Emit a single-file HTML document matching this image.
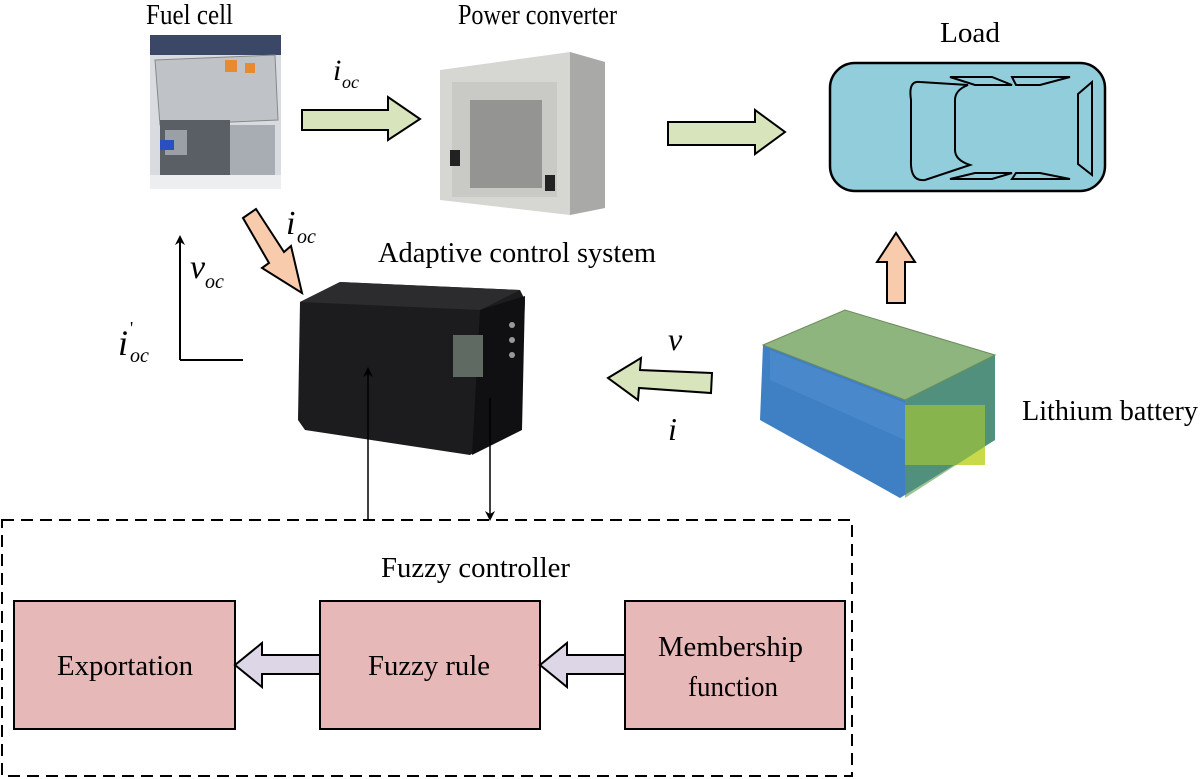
<!DOCTYPE html>
<html><head><meta charset="utf-8"><style>
html,body{margin:0;padding:0;background:#fff;}
svg{display:block;font-family:"Liberation Serif",serif;}
</style></head><body>
<svg width="1200" height="779" viewBox="0 0 1200 779" xmlns="http://www.w3.org/2000/svg">
<defs>
<marker id="ah" markerWidth="10" markerHeight="10" refX="5" refY="5" orient="auto" markerUnits="userSpaceOnUse">
<path d="M0,0 L10,5 L0,10 L3,5 z" fill="#000"/></marker>
</defs>
<!-- Titles -->
<text x="146" y="24" font-size="29" textLength="87" lengthAdjust="spacingAndGlyphs">Fuel cell</text>
<text x="458" y="24" font-size="29" textLength="159" lengthAdjust="spacingAndGlyphs">Power converter</text>
<text x="940" y="42" font-size="29" textLength="60" lengthAdjust="spacingAndGlyphs">Load</text>
<text x="378" y="262" font-size="29" textLength="278" lengthAdjust="spacingAndGlyphs">Adaptive control system</text>
<text x="1022" y="420" font-size="29" textLength="176" lengthAdjust="spacingAndGlyphs">Lithium battery</text>

<!-- Fuel cell photo -->
<rect x="150" y="35" width="131" height="154" fill="#d8dbe0"/>
<rect x="150" y="35" width="131" height="20" fill="#3b4766"/>
<path d="M155,60 L275,55 L278,120 L160,125 z" fill="#bfc3c8" stroke="#888"/>
<rect x="225" y="60" width="12" height="12" fill="#e88a30"/><rect x="245" y="63" width="10" height="10" fill="#e88a30"/>
<rect x="160" y="120" width="70" height="55" fill="#5a5f66"/>
<rect x="165" y="130" width="22" height="25" fill="#9aa0a6"/>
<rect x="160" y="140" width="14" height="10" fill="#2a4fbf"/>
<rect x="230" y="125" width="45" height="50" fill="#a8adb3"/>
<rect x="150" y="175" width="131" height="14" fill="#eceef0"/>

<!-- Power converter -->
<path d="M440,70 L570,52 L605,62 L605,208 L570,215 L440,200 z" fill="#d6d6d3"/>
<path d="M570,52 L605,62 L605,208 L570,215 z" fill="#a9aaa8"/>
<rect x="452" y="82" width="105" height="115" fill="#c9c9c6"/>
<rect x="470" y="100" width="72" height="88" fill="#7e7f7e" opacity="0.7"/>
<rect x="450" y="150" width="10" height="16" fill="#222"/><rect x="545" y="175" width="10" height="16" fill="#222"/>

<!-- green arrow 1 -->
<text x="333" y="80" font-size="30" font-style="italic">i</text><text x="342" y="88" font-size="18" font-style="italic">oc</text>
<path d="M302,110 L388,110 L388,97 L420,119 L388,140 L388,130 L302,130 z" fill="#d8e4bc" stroke="#000" stroke-width="2"/>
<!-- green arrow 2 -->
<path d="M668,122 L755,122 L755,110 L785,132 L755,154 L755,145 L668,145 z" fill="#d8e4bc" stroke="#000" stroke-width="2"/>

<!-- Car -->
<rect x="830" y="63" width="275" height="128" rx="25" fill="#92cddb" stroke="#000" stroke-width="2.5"/>
<path d="M920,82 Q908,80 911,100 L911,160 Q910,182 925,180 L970,165 Q955,160 955,150 L955,100 Q955,90 968,85 z" fill="none" stroke="#000" stroke-width="2"/>
<path d="M950,77 L992,77 L1012,85 L975,85 z M1012,77 L1070,77 L1040,85 L1016,85 z" fill="none" stroke="#000" stroke-width="2"/>
<path d="M950,179 L992,179 L1012,173 L975,173 z M1012,179 L1070,179 L1040,173 L1016,173 z" fill="none" stroke="#000" stroke-width="2"/>
<path d="M1078,94 L1092,82 L1092,175 L1078,164 z" fill="none" stroke="#000" stroke-width="2"/>

<!-- peach up arrow -->
<path d="M887,303 L887,262 L877,262 L896,233 L915,262 L905,262 L905,303 z" fill="#f8cbad" stroke="#000" stroke-width="2"/>

<!-- battery -->
<path d="M763,345 L845,310 L995,355 L995,440 L900,498 L760,420 z" fill="#3f7fc4"/>
<path d="M763,345 L845,310 L995,355 L905,400 z" fill="#8fb57e" stroke="#6e8b5e"/>
<path d="M770,350 L905,403 L905,440 L770,380 z" fill="#4a88cc"/>
<rect x="905" y="405" width="80" height="60" fill="#c8d94a"/>
<path d="M905,400 L995,355 L995,440 L905,498 z" fill="#5b9b4f" opacity="0.6"/>

<!-- left green arrow -->
<text x="668" y="350" font-size="32" font-style="italic">v</text>
<text x="668" y="440" font-size="32" font-style="italic">i</text>
<path d="M712,373 L640,370 L641,358 L608,378 L638,400 L639,388 L711,393 z" fill="#d8e4bc" stroke="#000" stroke-width="2"/>

<!-- black box -->
<path d="M300,302 L340,282 L520,290 L525,300 L520,425 L470,455 L305,430 L298,420 z" fill="#1c1c1e"/>
<path d="M300,302 L340,282 L520,290 L480,310 z" fill="#2c2c2e"/>
<path d="M480,310 L525,296 L522,430 L472,455 z" fill="#101012"/>
<rect x="453" y="335" width="30" height="42" fill="#5f6a62"/>
<circle cx="512" cy="325" r="3" fill="#999"/><circle cx="512" cy="340" r="3" fill="#999"/><circle cx="512" cy="355" r="3" fill="#999"/>

<!-- peach diagonal arrow -->
<path d="M243,218 L256,209 L284,252 L291,246 L302,293 L262,268 L269,263 z" fill="#f8cbad" stroke="#000" stroke-width="2"/>
<text x="286" y="234" font-size="34" font-style="italic">i</text><text x="297" y="243" font-size="20" font-style="italic">oc</text>
<text x="190" y="278" font-size="34" font-style="italic">v</text><text x="205" y="288" font-size="20" font-style="italic">oc</text>

<!-- axis -->
<path d="M180,360 L180,240" stroke="#000" stroke-width="2" fill="none" marker-end="url(#ah)"/>
<path d="M180,360 L243,360" stroke="#000" stroke-width="2" fill="none"/>
<text x="118" y="355" font-size="36" font-style="italic">i</text><text x="130" y="334" font-size="18">'</text><text x="130" y="362" font-size="20" font-style="italic">oc</text>

<!-- vertical arrows -->
<path d="M368,519 L368,372" stroke="#000" stroke-width="1.5" fill="none" marker-end="url(#ah)"/>
<path d="M490,398 L490,516" stroke="#000" stroke-width="1.5" fill="none" marker-end="url(#ah)"/>

<!-- dashed box -->
<rect x="2" y="520" width="850" height="256" fill="none" stroke="#000" stroke-width="2" stroke-dasharray="12,7"/>
<text x="381" y="577" font-size="29" textLength="189" lengthAdjust="spacingAndGlyphs">Fuzzy controller</text>

<rect x="14" y="601" width="221" height="128" fill="#e6b8b7" stroke="#000" stroke-width="2"/>
<rect x="320" y="601" width="220" height="128" fill="#e6b8b7" stroke="#000" stroke-width="2"/>
<rect x="625" y="601" width="220" height="128" fill="#e6b8b7" stroke="#000" stroke-width="2"/>
<text x="57" y="675" font-size="29" textLength="136" lengthAdjust="spacingAndGlyphs">Exportation</text>
<text x="368" y="675" font-size="29" textLength="122" lengthAdjust="spacingAndGlyphs">Fuzzy rule</text>
<text x="658" y="656" font-size="29" textLength="145" lengthAdjust="spacingAndGlyphs">Membership</text>
<text x="688" y="696" font-size="29" textLength="90" lengthAdjust="spacingAndGlyphs">function</text>

<path d="M320,655 L262,655 L262,643 L235,665 L262,687 L262,674 L320,674 z" fill="#dcd6e6" stroke="#000" stroke-width="2"/>
<path d="M625,655 L567,655 L567,643 L540,665 L567,687 L567,674 L625,674 z" fill="#dcd6e6" stroke="#000" stroke-width="2"/>
</svg>
</body></html>
